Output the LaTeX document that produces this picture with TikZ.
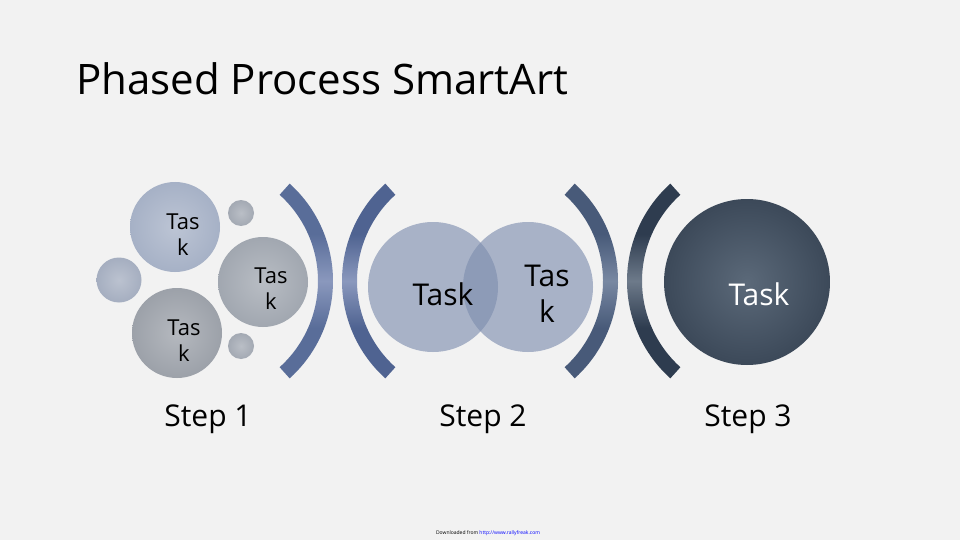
\documentclass[tikz,border=0pt]{standalone}
\usepackage{fontspec}
\setmainfont{Open Sans}

\definecolor{slide}{HTML}{F2F2F2}
\definecolor{bubA}{HTML}{A6B1C6}
\definecolor{bubB}{HTML}{A5AEC0}
\definecolor{bubC}{HTML}{9CA1A9}
\definecolor{bubD}{HTML}{A1A7B0}
\definecolor{bubE}{HTML}{A3A9B3}
\definecolor{pairblue}{HTML}{7E8EAF}
\definecolor{darkedge}{HTML}{3C4959}
\definecolor{darkmid}{HTML}{5B6979}
\definecolor{arcA}{HTML}{596D99}
\definecolor{arcAA}{HTML}{4F6391}
\definecolor{arcAhi}{HTML}{8A98BD}
\definecolor{arcB}{HTML}{485A79}
\definecolor{arcBhi}{HTML}{7888A2}
\definecolor{arcC}{HTML}{2E3C4F}
\definecolor{arcChi}{HTML}{6D7A8A}
\colorlet{arcbase}{arcA}
\colorlet{archi}{arcAhi}

\pgfdeclareverticalshading[arcbase,archi]{bracket}{100bp}{color(0bp)=(arcbase); color(38bp)=(arcbase);
  color(50bp)=(archi); color(62bp)=(arcbase); color(100bp)=(arcbase)}

\begin{document}
\begin{tikzpicture}[x=1pt, y=-1pt,
  bubble/.style={circle, inner sep=0pt, minimum size=#1},
  small task/.style={align=center, inner sep=0pt, font=\fontsize{22}{26}\selectfont},
  big task/.style={align=center, inner sep=0pt, font=\fontsize{30}{36}\selectfont},
  step label/.style={anchor=base, inner sep=0pt, font=\fontsize{30}{36}\selectfont}]

\fill [slide] (0,0) rectangle (960,540);
\useasboundingbox (0,0) rectangle (960,540);

\node [anchor=base west, inner sep=0pt, font=\fontsize{42}{50}\selectfont] (title) at (76,95) {Phased Process SmartArt};

% step 1
\foreach \n/\x/\y/\d/\c in {a/175/227/90/bubA, b/119/280/45/bubB, c/177/333/90/bubC,
                           d/263/282/90/bubD, e/241/213/26/bubE, f/241/346/26/bubE}
  \node [bubble=\d, inner color=\c!75!white, outer color=\c] (bubble1-\n) at (\x,\y) {};

\foreach \n/\x/\y in {a/183/234.5, c/184/340.5, d/271/288.5}
  \node [small task] (task1-\n) at (\x,\y) {Tas\\k};

% step 2
\foreach \n/\x in {a/433, b/528}
  \node [bubble=130, fill=pairblue, fill opacity=0.63] (bubble2-\n) at (\x,287) {};

\node [big task, anchor=base] (task2-a) at (443,305) {Task};
\node [big task] (task2-b) at (547,294) {Tas\\k};

% step 3
\node [bubble=166, inner color=darkmid, outer color=darkedge] (bubble3) at (747,282) {};
\node [big task, anchor=base, text=white] (task3) at (759,305) {Task};

% brackets
\foreach \cx/\a/\col/\hi in {202/0/arcA/arcAhi, 473/180/arcAA/arcAhi,
                            487/0/arcB/arcBhi, 758/180/arcC/arcChi}
{
  \colorlet{arcbase}{\col}
  \colorlet{archi}{\hi}
  \shade [shading=bracket]
    ([shift={(\cx,281)}]{\a-48}:131) arc [start angle=\a-48, end angle=\a+48, radius=131]
    -- ([shift={(\cx,281)}]{\a+48}:116) arc [start angle=\a+48, end angle=\a-48, radius=116]
    -- cycle;
}

\foreach \l/\x [count=\i] in {1/208, 2/483, 3/748}
  \node [step label] (step-\i) at (\x,426) {Step \l};

\node [inner sep=0pt, font=\fontsize{5}{6}\selectfont] (footer) at (488,533)
  {Downloaded from \textcolor{blue}{http://www.rallyfreak.com}};

\end{tikzpicture}
\end{document}
